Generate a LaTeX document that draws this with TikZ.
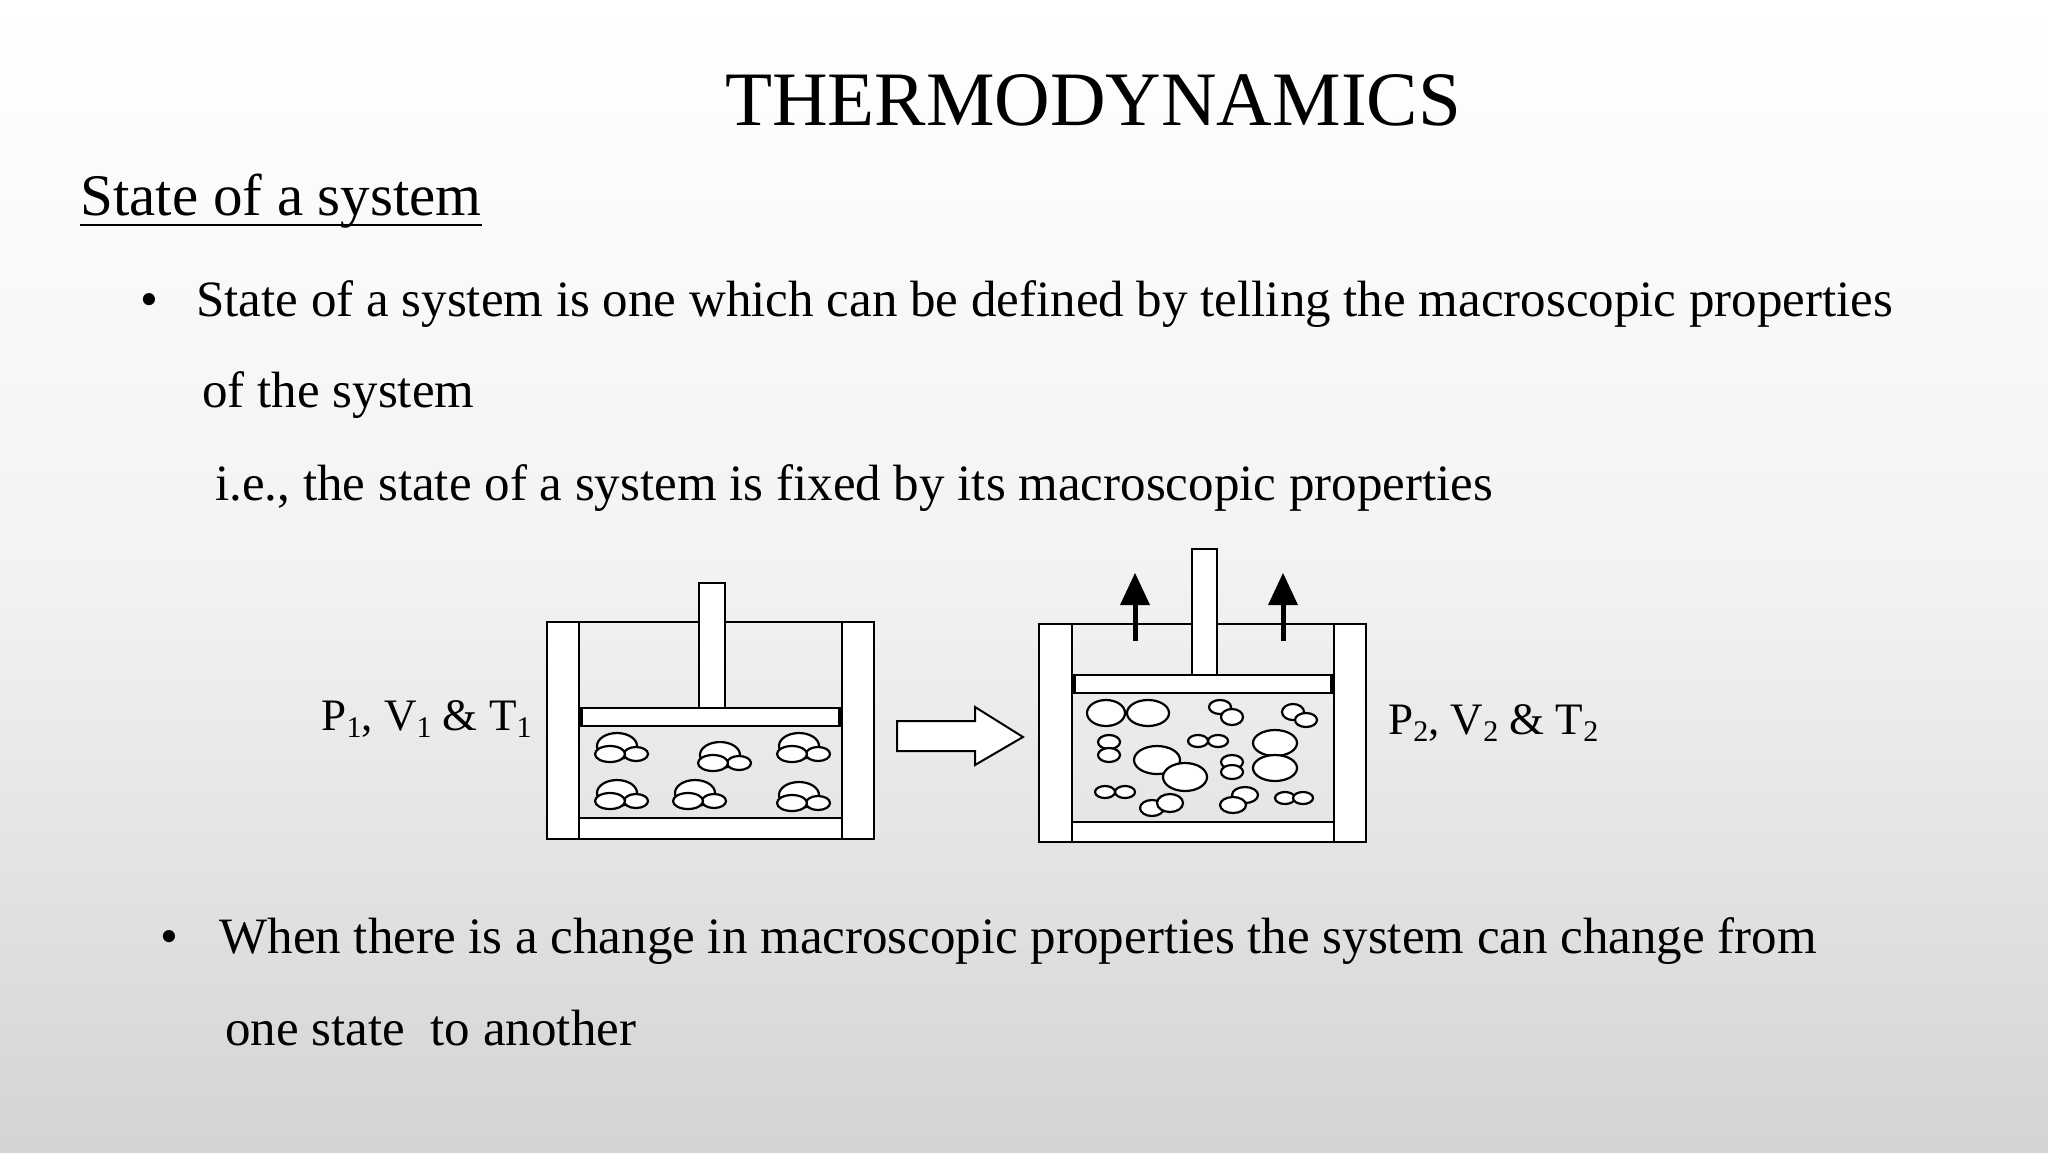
\documentclass[tikz,border=0pt]{standalone}
\usepackage{fontspec}
\setmainfont{Liberation Serif}
\newcommand{\lowsub}[1]{\raisebox{-0.35ex}{\fontsize{15}{17}\selectfont #1}}
\begin{document}
\begin{tikzpicture}[x=0.5pt,y=-0.5pt,
  txt/.style={anchor=base west,inner sep=0,font=\fontsize{25.5}{30}\selectfont},
  lab/.style={inner sep=0,font=\fontsize{22.5}{26}\selectfont},
  part/.style={draw=black,line width=1.2pt,fill=white},
  mol/.style={draw=black,line width=1.1pt,fill=white},
  wall/.style={draw=black,line width=1.3pt,fill=white}]
\path[top color=white,bottom color=black!17,middle color=white!95!black,shading angle=0] (0,0) rectangle (2048,1152);
\useasboundingbox (0,0) rectangle (2048,1152);
\node[anchor=base,inner sep=0,font=\fontsize{38.5}{45}\selectfont] (title) at (1093,125) {THERMODYNAMICS};
\node[txt,font=\fontsize{29.5}{34}\selectfont] (sub) at (80,215) {State of a system};
\draw[line width=0.9pt] ([yshift=-5pt]sub.base west) -- ([yshift=-5pt]sub.base east);
\node[txt] (b1) at (140,316) {\textbullet};
\node[txt] (l1) at (196,316) {State of a system is one which can be defined by telling the macroscopic properties};
\node[txt] (l2) at (202,407) {of the system};
\node[txt] (l3) at (215,500) {i.e., the state of a system is fixed by its macroscopic properties};
\node[txt] (b2) at (160,953) {\textbullet};
\node[txt] (l4) at (219,953) {When there is a change in macroscopic properties the system can change from};
\node[txt] (l5) at (225,1045) {one state\ \ to another};
\node[lab,anchor=base east] (pa) at (532,730) {P\lowsub{1}, V\lowsub{1} \& T\lowsub{1}};
\node[lab,anchor=base west] (pb) at (1388,734) {P\lowsub{2}, V\lowsub{2} \& T\lowsub{2}};
% left cylinder
\draw[wall] (547,622) rectangle (579,839);
\draw[wall] (842,622) rectangle (874,839);
\draw[wall] (579,622) -- (842,622);
\draw[wall] (579,818) rectangle (842,839);
\draw[part] (699,583) rectangle (725,708);
\draw[part] (579,708) rectangle (842,726);
\fill (579,708) rectangle (583,726);
\fill (838,708) rectangle (842,726);
\foreach \cx/\cy in {620/748,723/757,802/748,620/795,698/795,802/797}{
  \draw[mol] (\cx-3,\cy-2) ellipse [x radius=20, y radius=13];
  \draw[mol] (\cx+16,\cy+6) ellipse [x radius=12, y radius=7];
  \draw[mol] (\cx-10,\cy+6) ellipse [x radius=15, y radius=8];
}
% block arrow
\draw[part,line width=1pt] (897,721) -- (975,721) -- (975,707) -- (1023,737) -- (975,765) -- (975,751) -- (897,751) -- cycle;
% right cylinder
\draw[wall] (1039,624) rectangle (1072,842);
\draw[wall] (1334,624) rectangle (1366,842);
\draw[wall] (1072,624) -- (1334,624);
\draw[wall] (1072,822) rectangle (1334,842);
\draw[part] (1192,549) rectangle (1217,675);
\draw[part] (1072,675) rectangle (1334,693);
\fill (1072,675) rectangle (1076,693);
\fill (1330,675) rectangle (1334,693);
\foreach \x in {1135,1283}{
  \draw[line width=2.5pt] (\x,641) -- (\x,595);
  \fill (\x-15,605) -- (\x,573) -- (\x+15,605) -- cycle;
}
\foreach \cx/\cy/\rx/\ry in {1106/713/19/13,1148/713/21/13,1220/707/11/7,1232/717/11/8,1293/712/11/8,1306/720/11/7,
  1109/742/11/7,1109/755/11/7,1198/741/10/6,1218/741/10/6,1275/743/22/13,1275/768/22/13,
  1157/760/23/14,1185/777/22/14,1232/762/11/7,1232/772/11/7,1105/792/10/6,1125/792/10/6,
  1152/808/12/8,1170/803/13/9,1245/795/13/8,1233/805/13/8,1285/798/10/6,1303/798/10/6}{
  \draw[mol] (\cx,\cy) ellipse [x radius=\rx, y radius=\ry];
}
\end{tikzpicture}
\end{document}
